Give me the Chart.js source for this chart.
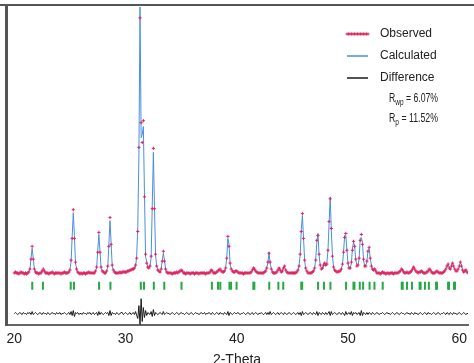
<!DOCTYPE html>
<html>
<head>
<meta charset="utf-8">
<script src="https://cdn.jsdelivr.net/npm/chart.js@4.4.1/dist/chart.umd.min.js"></script>
<style>
  html, body { margin: 0; padding: 0; background: #fff; overflow: hidden; }
  #wrap { width: 474px; height: 366px; }
</style>
</head>
<body>
<div id="wrap"><canvas id="myChart" width="474" height="366"></canvas></div>
<script>
// scan: 2-theta from 20.0 in 0.1 deg steps
const scanStart = 20.0
const scanStep = 0.1

// observed intensity (arb. units), one row per degree
const observed = [
  53,54,53,53,52,53,54,53,53,52,
  53,52,53,54,57,67,80,67,57,54,
  53,53,52,53,53,55,57,55,53,53,
  53,52,53,53,54,53,52,53,53,53,
  53,53,52,53,53,54,53,53,53,54,
  56,66,88,117,88,64,57,54,53,52,
  53,52,53,53,52,53,53,54,53,53,
  53,53,53,55,59,74,94,74,59,55,
  54,53,53,55,60,80,109,82,61,56,
  54,53,53,53,53,54,53,54,54,54,
  54,54,55,55,56,56,57,57,58,61,
  68,95,180,311,205,185,207,130,72,63,
  59,58,60,70,118,179,118,72,60,56,
  55,54,57,65,75,65,57,54,53,53,
  53,53,52,53,53,53,54,53,54,55,
  56,55,53,53,52,53,53,53,52,53,
  53,53,52,53,53,53,52,53,53,53,
  53,53,52,53,53,53,54,56,55,53,
  53,53,54,55,56,57,55,54,54,55,
  58,68,90,80,63,57,55,54,54,55,
  55,54,53,53,53,53,52,53,53,53,
  53,53,53,54,56,58,57,55,54,53,
  53,53,53,53,53,54,55,58,64,73,
  64,57,54,53,53,53,54,56,58,56,
  54,55,58,60,56,54,53,53,53,53,
  53,53,53,53,54,56,60,72,95,113,
  88,66,58,55,53,53,53,53,54,55,
  58,66,86,91,72,61,57,58,61,63,
  61,62,76,105,128,98,70,59,56,55,
  54,54,55,55,57,62,74,89,93,76,
  63,58,58,64,76,85,80,67,60,61,
  68,86,92,82,67,60,60,65,75,79,
  68,60,57,56,57,55,53,53,53,52,
  53,54,53,53,52,53,53,52,53,53,
  53,52,53,53,53,53,54,55,57,56,
  54,53,53,54,53,53,54,55,57,59,
  57,55,54,53,54,54,55,54,53,53,
  53,54,55,57,56,54,53,53,53,54,
  55,54,53,53,53,53,54,55,57,60,
  62,58,57,60,63,60,57,55,55,57,
  60,64,60,56,54,55,56,54,53
]

// observed - calculated
const difference = [
  0,1,0,-1,0,1,0,-1,1,0,
  0,-1,1,0,1,-1,2,-1,0,1,
  0,-1,0,1,0,-1,1,0,0,-1,
  1,0,-1,0,1,0,0,-1,1,0,
  0,1,-1,0,0,1,0,-1,0,1,
  -1,2,-2,3,-3,1,0,1,-1,0,
  0,-1,1,0,0,-1,1,0,1,-1,
  0,1,-1,0,1,-2,2,-1,1,0,
  -1,0,1,0,1,-2,3,-2,1,0,
  0,-1,1,0,-1,0,1,1,-1,0,
  1,0,-1,0,1,-1,0,1,-1,2,
  -2,-5,8,-11,15,-8,6,-4,3,-2,
  1,0,-1,2,-3,4,-2,1,0,-1,
  0,1,0,-1,2,-1,0,1,0,0,
  -1,0,1,0,-1,0,1,0,-1,0,
  1,0,0,-1,0,1,0,-1,0,1,
  0,-1,0,1,0,0,-1,0,1,0,
  0,1,-1,0,0,1,0,-1,1,0,
  -1,0,1,0,-1,1,0,0,-1,1,
  0,-1,2,-2,1,0,-1,0,1,0,
  0,1,0,-1,0,0,1,0,-1,0,
  1,0,-1,0,1,-1,0,1,0,-1,
  0,0,1,0,-1,0,1,-1,1,-1,
  2,-1,0,1,0,-1,0,1,-1,0,
  1,0,-1,1,0,-1,0,1,0,-1,
  0,1,0,-1,0,1,-1,1,-2,2,
  -1,0,1,0,-1,0,1,0,-1,1,
  0,-1,2,-2,1,0,-1,1,0,-1,
  1,-1,0,2,-2,2,-1,0,1,0,
  -1,0,1,0,-1,1,0,-2,2,-1,
  0,1,-1,2,-2,1,0,1,-1,0,
  1,-2,3,-2,1,0,-1,1,-1,1,
  0,-1,1,0,-1,0,1,0,-1,0,
  0,1,0,-1,0,1,0,0,-1,0,
  1,0,-1,0,1,0,-1,0,1,0,
  0,-1,0,1,0,0,-1,1,0,-1,
  1,0,0,-1,0,1,0,-1,0,1,
  0,-1,1,0,0,-1,0,1,0,-1,
  0,1,0,-1,0,0,1,0,-1,1,
  0,-1,1,0,-1,1,0,0,-1,0,
  1,0,-1,0,1,0,-1,0,0
]

// Bragg reflection positions (2-theta)
const braggPositions = [21.61, 22.57, 25.07, 25.36, 27.62, 28.64, 31.37, 31.66, 32.54, 33.48,
  35.03, 37.76, 38.31, 38.52, 39.34, 39.49, 39.98, 41.49, 41.58, 42.92, 43.74, 44.18,
  45.8, 45.88, 47.31, 47.84, 48.42, 49.83, 50.49, 50.58, 51.06, 51.36, 51.94, 52.38,
  53.12, 54.83, 54.92, 55.31, 55.75, 56.44, 56.53, 56.92, 57.27, 57.92, 58.0, 59.0,
  59.08, 59.53, 59.62]

const diffOffset = 12   // difference curve shifted below the pattern
const braggLevel = 40   // height of the reflection markers row

const seriesNames = ['Observed', 'Calculated', 'Difference']
const rNames = ['wp', 'p']
const rValues = ['6.07%', '11.52%']
const xTicks = [20, 30, 40, 50, 60]

const RED = '#e2255e'
const BLUE = '#4a8ee0'
const BLACK = '#1a1a1a'
const GREEN = '#26a847'
const FONT = "'Liberation Sans', Arial, sans-serif"

const twoTheta = observed.map((_, i) => +(scanStart + i * scanStep).toFixed(2))
const calculated = observed.map((v, i) => v - difference[i])

const obsPoints = twoTheta.map((x, i) => ({ x: x, y: observed[i] }))
const calcPoints = twoTheta.map((x, i) => ({ x: x, y: calculated[i] }))
const diffPoints = twoTheta.map((x, i) => ({ x: x, y: diffOffset + difference[i] }))
const braggPoints = braggPositions.map(x => ({ x: x, y: braggLevel }))

// legend + R factors + top frame
const legendBox = {
  id: 'legendBox',
  afterDraw(chart) {
    const ctx = chart.ctx
    const area = chart.chartArea
    ctx.save()

    ctx.strokeStyle = '#555'
    ctx.lineWidth = 2
    ctx.beginPath()
    ctx.moveTo(0, area.top - 1)
    ctx.lineTo(chart.width, area.top - 1)
    ctx.stroke()

    const rows = [34, 56, 78]
    const x0 = 347, x1 = 368, tx = 380
    ctx.font = '12px ' + FONT
    ctx.textBaseline = 'middle'
    ctx.fillStyle = '#222'

    // observed sample: packed crosses
    ctx.strokeStyle = RED
    ctx.lineWidth = 1
    for (let x = x0; x <= x1; x += 1.5) {
      ctx.beginPath()
      ctx.moveTo(x - 1.5, rows[0]); ctx.lineTo(x + 1.5, rows[0])
      ctx.moveTo(x, rows[0] - 1.5); ctx.lineTo(x, rows[0] + 1.5)
      ctx.stroke()
    }
    ctx.strokeStyle = BLUE
    ctx.lineWidth = 1.5
    ctx.beginPath(); ctx.moveTo(x0, rows[1]); ctx.lineTo(x1, rows[1]); ctx.stroke()
    ctx.strokeStyle = BLACK
    ctx.beginPath(); ctx.moveTo(x0, rows[2]); ctx.lineTo(x1, rows[2]); ctx.stroke()

    seriesNames.forEach((name, i) => ctx.fillText(name, tx, rows[i]))

    // R factors, a bit condensed as in the figure
    const rRows = [99, 119]
    rNames.forEach((sub, i) => {
      const main = '12px ' + FONT, small = '9px ' + FONT
      const rest = ' = ' + rValues[i]
      ctx.font = main
      const wR = ctx.measureText('R').width
      const wRest = ctx.measureText(rest).width
      ctx.font = small
      const wSub = ctx.measureText(sub).width
      const total = wR + wSub + wRest
      ctx.save()
      ctx.translate(389, rRows[i])
      ctx.scale(Math.min(1, 49 / total), 1)
      ctx.font = main
      ctx.fillText('R', 0, 0)
      ctx.font = small
      ctx.fillText(sub, wR, 4)
      ctx.font = main
      ctx.fillText(rest, wR + wSub, 0)
      ctx.restore()
    })
    ctx.restore()
  }
}

new Chart(document.getElementById('myChart'), {
  type: 'line',
  data: {
    datasets: [
      {
        label: seriesNames[0], data: obsPoints, showLine: false,
        pointStyle: 'cross', pointRadius: 1.6, pointBorderWidth: 1,
        pointBorderColor: RED, borderColor: RED, backgroundColor: RED
      },
      {
        label: seriesNames[1], data: calcPoints, borderColor: BLUE,
        borderWidth: 1, pointRadius: 0, tension: 0
      },
      {
        label: seriesNames[2], data: diffPoints, borderColor: BLACK,
        borderWidth: 1, pointRadius: 0, tension: 0
      },
      {
        label: 'Bragg', data: braggPoints, showLine: false,
        pointStyle: 'line', pointRotation: 90, pointRadius: 4,
        pointBorderWidth: 2, pointBorderColor: GREEN, borderColor: GREEN
      }
    ]
  },
  options: {
    responsive: false,
    animation: false,
    devicePixelRatio: 1,
    layout: { padding: { left: 1.5, top: 2, right: 0, bottom: 0 } },
    plugins: { legend: { display: false }, tooltip: { enabled: false } },
    scales: {
      x: {
        type: 'linear', min: 19.25, max: 60.79,
        grid: { display: false, drawTicks: false, tickLength: 0 },
        border: { color: '#666', width: 2 },
        afterBuildTicks: axis => { axis.ticks = xTicks.map(v => ({ value: v })) },
        ticks: { padding: 5, color: '#222', maxRotation: 0, autoSkip: false, font: { family: FONT, size: 14 } },
        title: { display: true, text: '2-Theta', color: '#222', font: { family: FONT, size: 14 }, padding: { top: 0, bottom: -3 } }
      },
      y: {
        min: 0, max: 323,
        grid: { display: false, drawTicks: false, tickLength: 0 },
        ticks: { display: false },
        border: { color: '#555', width: 3 }
      }
    }
  },
  plugins: [legendBox]
})
</script>
</body>
</html>
